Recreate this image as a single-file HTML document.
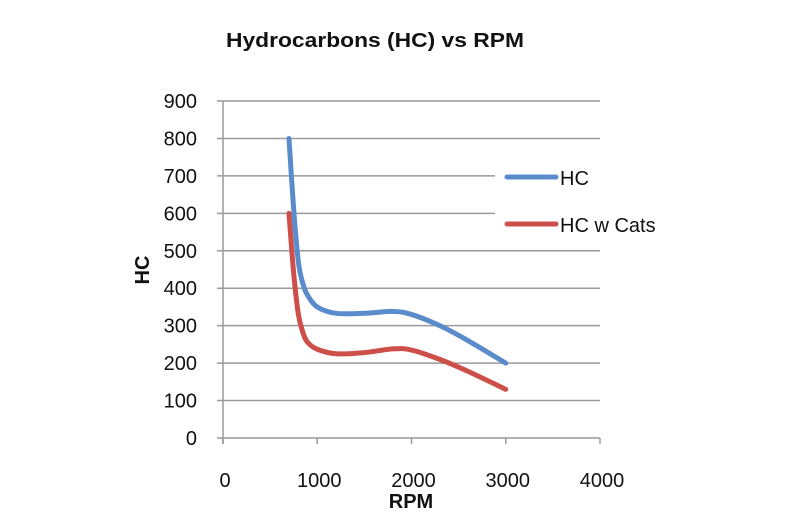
<!DOCTYPE html>
<html><head><meta charset="utf-8"><style>
body{margin:0;background:#fff;}
svg{display:block;font-family:"Liberation Sans",sans-serif;}
</style></head><body>
<svg id="chart" width="800" height="531" viewBox="0 0 800 531">
<text x="375" y="47" text-anchor="middle" font-size="20" font-weight="bold" fill="#111" textLength="298" lengthAdjust="spacingAndGlyphs">Hydrocarbons (HC) vs RPM</text>
<g id="grid"></g><g id="axes"></g><g id="series"></g>
<g>
<rect x="495" y="160" width="170" height="72" fill="#fff"/>
<line x1="507" y1="177" x2="556" y2="177" stroke="#5a8ccb" stroke-width="5" stroke-linecap="round"/>
<text x="560" y="185" font-size="20" fill="#111">HC</text>
<line x1="507" y1="224" x2="556" y2="224" stroke="#cc4f4a" stroke-width="5" stroke-linecap="round"/>
<text x="560" y="232" font-size="20" fill="#111">HC w Cats</text>
</g>
<text x="411" y="508" text-anchor="middle" font-size="20" font-weight="bold" fill="#111">RPM</text>
<text transform="translate(149,270) rotate(-90)" text-anchor="middle" font-size="20" font-weight="bold" fill="#111">HC</text>
</svg>
<script>
const xTicks=[0,1000,2000,3000,4000];
const yTicks=[0,100,200,300,400,500,600,700,800,900];
const rpm=[700,750,800,850,900,1000,1200,1500,1800,2000,2300,2600,3000];
const hcValues=[800,610,470,410,380,350,333,333,338,330,300,260,200];
const hcCatsValues=[600,440,330,280,255,237,225,228,238,235,210,178,130];
const NS="http://www.w3.org/2000/svg";
const X0=223,X1=600,Y0=438,Y1=101;
const sx=v=>X0+(v-0)/4000*(X1-X0);
const sy=v=>Y0-(v-0)/900*(Y0-Y1);
function mk(t,a,p){const e=document.createElementNS(NS,t);for(const k in a)e.setAttribute(k,a[k]);p.appendChild(e);return e;}
const grid=document.getElementById('grid'),axes=document.getElementById('axes'),series=document.getElementById('series');
yTicks.forEach(v=>{
 const l=mk('line',{x1:X0-6,x2:X1,y1:sy(v),y2:sy(v),stroke:'#9a9a9a','stroke-width':1.5},grid);
 
 
 const t=mk('text',{x:197,y:sy(v)+7,'text-anchor':'end','font-size':20,fill:'#111'},axes);
 t.textContent=v;
 
 
});
const ya=mk('line',{x1:X0,x2:X0,y1:Y1,y2:Y0+6,stroke:'#9a9a9a','stroke-width':1.5},axes);


xTicks.forEach(v=>{
 const l=mk('line',{x1:sx(v),x2:sx(v),y1:Y0,y2:Y0+6,stroke:'#9a9a9a','stroke-width':1.5},axes);
 
 
 const t=mk('text',{x:sx(v)+2,y:487,'text-anchor':'middle','font-size':20,fill:'#111'},axes);
 t.textContent=v;
 
 
});
function path(xs,ys){
 const p=xs.map((x,i)=>[sx(x),sy(ys[i])]);
 let d='M'+p[0][0]+','+p[0][1];
 for(let i=0;i<p.length-1;i++){
  const p0=p[Math.max(0,i-1)],p1=p[i],p2=p[i+1],p3=p[Math.min(p.length-1,i+2)];
  const c1=[p1[0]+(p2[0]-p0[0])/6,p1[1]+(p2[1]-p0[1])/6];
  const c2=[p2[0]-(p3[0]-p1[0])/6,p2[1]-(p3[1]-p1[1])/6];
  d+=' C'+c1+' '+c2+' '+p2;
 }
 return d;
}
const s1=mk('path',{d:path(rpm,hcValues),fill:'none',stroke:'#5a8ccb','stroke-width':5,'stroke-linecap':'round','stroke-linejoin':'round'},series);


const s2=mk('path',{d:path(rpm,hcCatsValues),fill:'none',stroke:'#cc4f4a','stroke-width':5,'stroke-linecap':'round','stroke-linejoin':'round'},series);


</script>
</body></html>
